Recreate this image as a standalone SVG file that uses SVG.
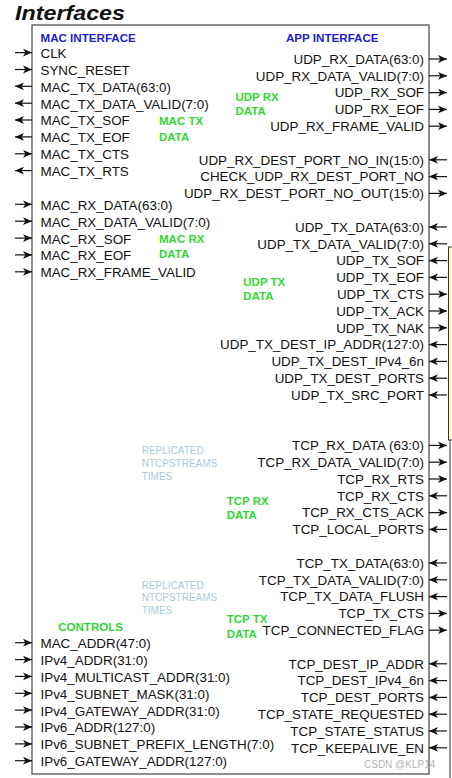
<svg xmlns="http://www.w3.org/2000/svg" width="452" height="778" viewBox="0 0 452 778">
<style>
text{font-family:"Liberation Sans",Arial,sans-serif}
.sig{font-size:13.4px;fill:#111}
.r{text-anchor:end}
.blu{font-size:11.6px;font-weight:bold;fill:#1c1cd0}
.grn{font-size:11.5px;font-weight:bold;fill:#33d633}
.rep{font-size:10px;fill:#a9c9dc}
.wm{font-size:10px;fill:#b4b4b4}
.ar{stroke:#111;stroke-width:1.2;fill:none;marker-end:url(#ah)}
</style>
<defs>
<marker id="ah" viewBox="0 0 9 9" refX="9" refY="4.5" markerWidth="9" markerHeight="9" markerUnits="userSpaceOnUse" orient="auto">
<path d="M0,0.6 L9,4.5 L0,8.4 L2.4,4.5 z" fill="#111"/>
</marker>
</defs>
<rect width="452" height="778" fill="#fff"/>
<g id="title"><text x="15" y="19.5" font-size="21" font-weight="bold" font-style="italic" fill="#111" textLength="110" lengthAdjust="spacingAndGlyphs">Interfaces</text></g>
<g id="fragment">
<rect x="448.5" y="247" width="10" height="193" fill="#fff8c8" stroke="#333" stroke-width="1"/>
<line x1="450" y1="440" x2="450" y2="778" stroke="#333" stroke-width="1"/>
</g>
<g id="block">
<rect x="32" y="25" width="397" height="749" fill="none" stroke="#444" stroke-width="1.2"/>
</g>
<g id="mac-interface">
<text class="blu" x="40.5" y="42">MAC INTERFACE</text>
<text class="sig" x="40.5" y="58">CLK</text>
<text class="sig" x="40.5" y="74.9">SYNC_RESET</text>
<text class="sig" x="40.5" y="91.7">MAC_TX_DATA(63:0)</text>
<text class="sig" x="40.5" y="108.6">MAC_TX_DATA_VALID(7:0)</text>
<text class="sig" x="40.5" y="125.4">MAC_TX_SOF</text>
<text class="sig" x="40.5" y="142.3">MAC_TX_EOF</text>
<text class="sig" x="40.5" y="159.2">MAC_TX_CTS</text>
<text class="sig" x="40.5" y="176">MAC_TX_RTS</text>
<text class="sig" x="40.5" y="209.7">MAC_RX_DATA(63:0)</text>
<text class="sig" x="40.5" y="226.6">MAC_RX_DATA_VALID(7:0)</text>
<text class="sig" x="40.5" y="243.5">MAC_RX_SOF</text>
<text class="sig" x="40.5" y="260.3">MAC_RX_EOF</text>
<text class="sig" x="40.5" y="277.2">MAC_RX_FRAME_VALID</text>
<text class="grn" x="159" y="125">MAC TX</text>
<text class="grn" x="159" y="140.7">DATA</text>
<text class="grn" x="159" y="243">MAC RX</text>
<text class="grn" x="159" y="258.4">DATA</text>
</g>
<g id="controls">
<text class="grn" x="58.3" y="630.8">CONTROLS</text>
<text class="sig" x="40.5" y="648.1">MAC_ADDR(47:0)</text>
<text class="sig" x="40.5" y="665">IPv4_ADDR(31:0)</text>
<text class="sig" x="40.5" y="681.8">IPv4_MULTICAST_ADDR(31:0)</text>
<text class="sig" x="40.5" y="698.7">IPv4_SUBNET_MASK(31:0)</text>
<text class="sig" x="40.5" y="715.5">IPv4_GATEWAY_ADDR(31:0)</text>
<text class="sig" x="40.5" y="732.4">IPv6_ADDR(127:0)</text>
<text class="sig" x="40.5" y="749.3">IPv6_SUBNET_PREFIX_LENGTH(7:0)</text>
<text class="sig" x="40.5" y="766.1">IPv6_GATEWAY_ADDR(127:0)</text>
</g>
<g id="app-interface">
<text class="blu" x="286" y="42">APP INTERFACE</text>
<text class="sig r" x="424" y="63.7">UDP_RX_DATA(63:0)</text>
<text class="sig r" x="424" y="80.5">UDP_RX_DATA_VALID(7:0)</text>
<text class="sig r" x="424" y="97.3">UDP_RX_SOF</text>
<text class="sig r" x="424" y="114.1">UDP_RX_EOF</text>
<text class="sig r" x="424" y="130.9">UDP_RX_FRAME_VALID</text>
<text class="sig r" x="424" y="164.5">UDP_RX_DEST_PORT_NO_IN(15:0)</text>
<text class="sig r" x="424" y="181.3">CHECK_UDP_RX_DEST_PORT_NO</text>
<text class="sig r" x="424" y="198.1">UDP_RX_DEST_PORT_NO_OUT(15:0)</text>
<text class="grn" x="235.5" y="100.8">UDP RX</text>
<text class="grn" x="235.5" y="115.1">DATA</text>
</g>
<g id="udp-tx">
<text class="sig r" x="424" y="231.7">UDP_TX_DATA(63:0)</text>
<text class="sig r" x="424" y="248.5">UDP_TX_DATA_VALID(7:0)</text>
<text class="sig r" x="424" y="265.3">UDP_TX_SOF</text>
<text class="sig r" x="424" y="282.1">UDP_TX_EOF</text>
<text class="sig r" x="424" y="298.9">UDP_TX_CTS</text>
<text class="sig r" x="424" y="315.7">UDP_TX_ACK</text>
<text class="sig r" x="424" y="332.5">UDP_TX_NAK</text>
<text class="sig r" x="424" y="349.3">UDP_TX_DEST_IP_ADDR(127:0)</text>
<text class="sig r" x="424" y="366.1">UDP_TX_DEST_IPv4_6n</text>
<text class="sig r" x="424" y="382.9">UDP_TX_DEST_PORTS</text>
<text class="sig r" x="424" y="399.7">UDP_TX_SRC_PORT</text>
<text class="grn" x="243.3" y="286.4">UDP TX</text>
<text class="grn" x="243.3" y="300.1">DATA</text>
</g>
<g id="tcp-rx">
<text class="rep" x="141.7" y="454.3">REPLICATED</text>
<text class="rep" x="141.7" y="466.9">NTCPSTREAMS</text>
<text class="rep" x="141.7" y="479.6">TIMES</text>
<text class="sig r" x="424" y="450.1">TCP_RX_DATA (63:0)</text>
<text class="sig r" x="424" y="466.9">TCP_RX_DATA_VALID(7:0)</text>
<text class="sig r" x="424" y="483.7">TCP_RX_RTS</text>
<text class="sig r" x="424" y="500.5">TCP_RX_CTS</text>
<text class="sig r" x="424" y="517.3">TCP_RX_CTS_ACK</text>
<text class="sig r" x="424" y="534.1">TCP_LOCAL_PORTS</text>
<text class="grn" x="226.7" y="504.8">TCP RX</text>
<text class="grn" x="226.7" y="519.4">DATA</text>
</g>
<g id="tcp-tx">
<text class="rep" x="141.7" y="588.6">REPLICATED</text>
<text class="rep" x="141.7" y="601.3">NTCPSTREAMS</text>
<text class="rep" x="141.7" y="614.3">TIMES</text>
<text class="sig r" x="424" y="567.7">TCP_TX_DATA(63:0)</text>
<text class="sig r" x="424" y="584.5">TCP_TX_DATA_VALID(7:0)</text>
<text class="sig r" x="424" y="601.3">TCP_TX_DATA_FLUSH</text>
<text class="sig r" x="424" y="618.1">TCP_TX_CTS</text>
<text class="sig r" x="424" y="634.9">TCP_CONNECTED_FLAG</text>
<text class="grn" x="226.7" y="622.8">TCP TX</text>
<text class="grn" x="226.7" y="638.1">DATA</text>
<text class="sig r" x="424" y="668.5">TCP_DEST_IP_ADDR</text>
<text class="sig r" x="424" y="685.3">TCP_DEST_IPv4_6n</text>
<text class="sig r" x="424" y="702.1">TCP_DEST_PORTS</text>
<text class="sig r" x="424" y="718.9">TCP_STATE_REQUESTED</text>
<text class="sig r" x="424" y="735.7">TCP_STATE_STATUS</text>
<text class="sig r" x="424" y="752.5">TCP_KEEPALIVE_EN</text>
</g>
<g id="connectors">
<line class="ar" x1="15" y1="52.6" x2="32" y2="52.6"/>
<line class="ar" x1="15" y1="69.5" x2="32" y2="69.5"/>
<line class="ar" x1="32" y1="86.3" x2="15" y2="86.3"/>
<line class="ar" x1="32" y1="103.2" x2="15" y2="103.2"/>
<line class="ar" x1="32" y1="120" x2="15" y2="120"/>
<line class="ar" x1="32" y1="136.9" x2="15" y2="136.9"/>
<line class="ar" x1="15" y1="153.8" x2="32" y2="153.8"/>
<line class="ar" x1="32" y1="170.6" x2="15" y2="170.6"/>
<line class="ar" x1="15" y1="204.3" x2="32" y2="204.3"/>
<line class="ar" x1="15" y1="221.2" x2="32" y2="221.2"/>
<line class="ar" x1="15" y1="238.1" x2="32" y2="238.1"/>
<line class="ar" x1="15" y1="254.9" x2="32" y2="254.9"/>
<line class="ar" x1="15" y1="271.8" x2="32" y2="271.8"/>
<line class="ar" x1="15" y1="642.7" x2="32" y2="642.7"/>
<line class="ar" x1="15" y1="659.6" x2="32" y2="659.6"/>
<line class="ar" x1="15" y1="676.4" x2="32" y2="676.4"/>
<line class="ar" x1="15" y1="693.3" x2="32" y2="693.3"/>
<line class="ar" x1="15" y1="710.1" x2="32" y2="710.1"/>
<line class="ar" x1="15" y1="727" x2="32" y2="727"/>
<line class="ar" x1="15" y1="743.9" x2="32" y2="743.9"/>
<line class="ar" x1="15" y1="760.7" x2="32" y2="760.7"/>
<line class="ar" x1="429" y1="59" x2="447" y2="59"/>
<line class="ar" x1="429" y1="75.8" x2="447" y2="75.8"/>
<line class="ar" x1="429" y1="92.6" x2="447" y2="92.6"/>
<line class="ar" x1="429" y1="109.4" x2="447" y2="109.4"/>
<line class="ar" x1="429" y1="126.2" x2="447" y2="126.2"/>
<line class="ar" x1="447" y1="159.8" x2="429" y2="159.8"/>
<line class="ar" x1="447" y1="176.6" x2="429" y2="176.6"/>
<line class="ar" x1="429" y1="193.4" x2="447" y2="193.4"/>
<line class="ar" x1="447" y1="227" x2="429" y2="227"/>
<line class="ar" x1="447" y1="243.8" x2="429" y2="243.8"/>
<line class="ar" x1="447" y1="260.6" x2="429" y2="260.6"/>
<line class="ar" x1="447" y1="277.4" x2="429" y2="277.4"/>
<line class="ar" x1="429" y1="294.2" x2="447" y2="294.2"/>
<line class="ar" x1="429" y1="311" x2="447" y2="311"/>
<line class="ar" x1="429" y1="327.8" x2="447" y2="327.8"/>
<line class="ar" x1="447" y1="344.6" x2="429" y2="344.6"/>
<line class="ar" x1="447" y1="361.4" x2="429" y2="361.4"/>
<line class="ar" x1="447" y1="378.2" x2="429" y2="378.2"/>
<line class="ar" x1="447" y1="395" x2="429" y2="395"/>
<line class="ar" x1="429" y1="445.4" x2="447" y2="445.4"/>
<line class="ar" x1="429" y1="462.2" x2="447" y2="462.2"/>
<line class="ar" x1="429" y1="479" x2="447" y2="479"/>
<line class="ar" x1="447" y1="495.8" x2="429" y2="495.8"/>
<line class="ar" x1="429" y1="512.6" x2="447" y2="512.6"/>
<line class="ar" x1="447" y1="529.4" x2="429" y2="529.4"/>
<line class="ar" x1="447" y1="563" x2="429" y2="563"/>
<line class="ar" x1="447" y1="579.8" x2="429" y2="579.8"/>
<line class="ar" x1="447" y1="596.6" x2="429" y2="596.6"/>
<line class="ar" x1="429" y1="613.4" x2="447" y2="613.4"/>
<line class="ar" x1="429" y1="630.2" x2="447" y2="630.2"/>
<line class="ar" x1="447" y1="663.8" x2="429" y2="663.8"/>
<line class="ar" x1="447" y1="680.6" x2="429" y2="680.6"/>
<line class="ar" x1="447" y1="697.4" x2="429" y2="697.4"/>
<line class="ar" x1="447" y1="714.2" x2="429" y2="714.2"/>
<line class="ar" x1="447" y1="731" x2="429" y2="731"/>
<line class="ar" x1="447" y1="747.8" x2="429" y2="747.8"/>
</g>
<g id="watermark"><text class="wm" x="364" y="767.6">CSDN @KLP14</text></g>
</svg>
